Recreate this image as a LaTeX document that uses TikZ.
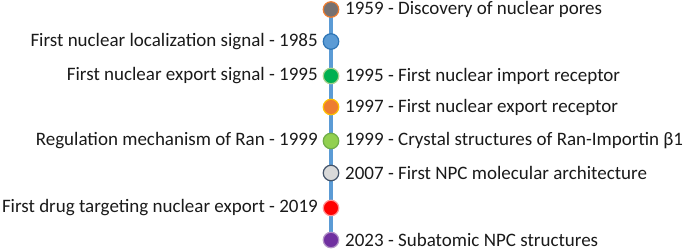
\documentclass[tikz,border=0pt]{standalone}
\usepackage{fontspec}
\setmainfont{Carlito}
\definecolor{lineblue}{HTML}{5B9BD5}
\definecolor{txt}{HTML}{1A1A1A}
\begin{document}
\begin{tikzpicture}[x=1pt,y=1pt,
  dot/.style={circle,minimum size=15.5pt,inner sep=0pt,line width=1.2pt},
  rlab/.style={anchor=west,font=\fontsize{19}{22}\selectfont,text=txt,inner sep=0pt},
  llab/.style={anchor=east,font=\fontsize{19}{22}\selectfont,text=txt,inner sep=0pt}]
\useasboundingbox (0,0) rectangle (685,250);
\coordinate (top) at (331,240.5);
\coordinate (bot) at (331,10);
\draw[lineblue,line width=3.5pt] (top) -- (bot);
\node[dot,fill={rgb,255:red,118;green,113;blue,113},draw={rgb,255:red,237;green,125;blue,49}] (d1) at (331,240.5) {};
\node[dot,fill={rgb,255:red,91;green,155;blue,213},draw={rgb,255:red,46;green,117;blue,182}] (d2) at (331,208.5) {};
\node[dot,fill={rgb,255:red,0;green,176;blue,80},draw={rgb,255:red,169;green,209;blue,142}] (d3) at (331,174) {};
\node[dot,fill={rgb,255:red,237;green,125;blue,49},draw={rgb,255:red,255;green,192;blue,0}] (d4) at (331,143) {};
\node[dot,fill={rgb,255:red,146;green,208;blue,80},draw={rgb,255:red,112;green,173;blue,71}] (d5) at (331,109) {};
\node[dot,fill={rgb,255:red,217;green,217;blue,217},draw={rgb,255:red,68;green,84;blue,106}] (d6) at (331,77) {};
\node[dot,fill={rgb,255:red,255;green,0;blue,0},draw={rgb,255:red,255;green,150;blue,150}] (d7) at (331,42) {};
\node[dot,fill={rgb,255:red,112;green,48;blue,160},draw={rgb,255:red,180;green,150;blue,200}] (d8) at (331,10) {};
\node[rlab] (r1) at (345,240.5) {1959 - Discovery of nuclear pores};
\node[rlab] (r3) at (345,174) {1995 - First nuclear import receptor};
\node[rlab] (r4) at (345,143) {1997 - First nuclear export receptor};
\node[rlab] (r5) at (345,109) {1999 - Crystal structures of Ran-Importin β1};
\node[rlab] (r6) at (345,77) {2007 - First NPC molecular architecture};
\node[rlab] (r8) at (345,10) {2023 - Subatomic NPC structures};
\node[llab] (l2) at (318,208.5) {First nuclear localization signal - 1985};
\node[llab] (l3) at (318,174) {First nuclear export signal - 1995};
\node[llab] (l5) at (318,109) {Regulation mechanism of Ran - 1999};
\node[llab] (l7) at (318,42) {First drug targeting nuclear export - 2019};
\end{tikzpicture}
\end{document}
